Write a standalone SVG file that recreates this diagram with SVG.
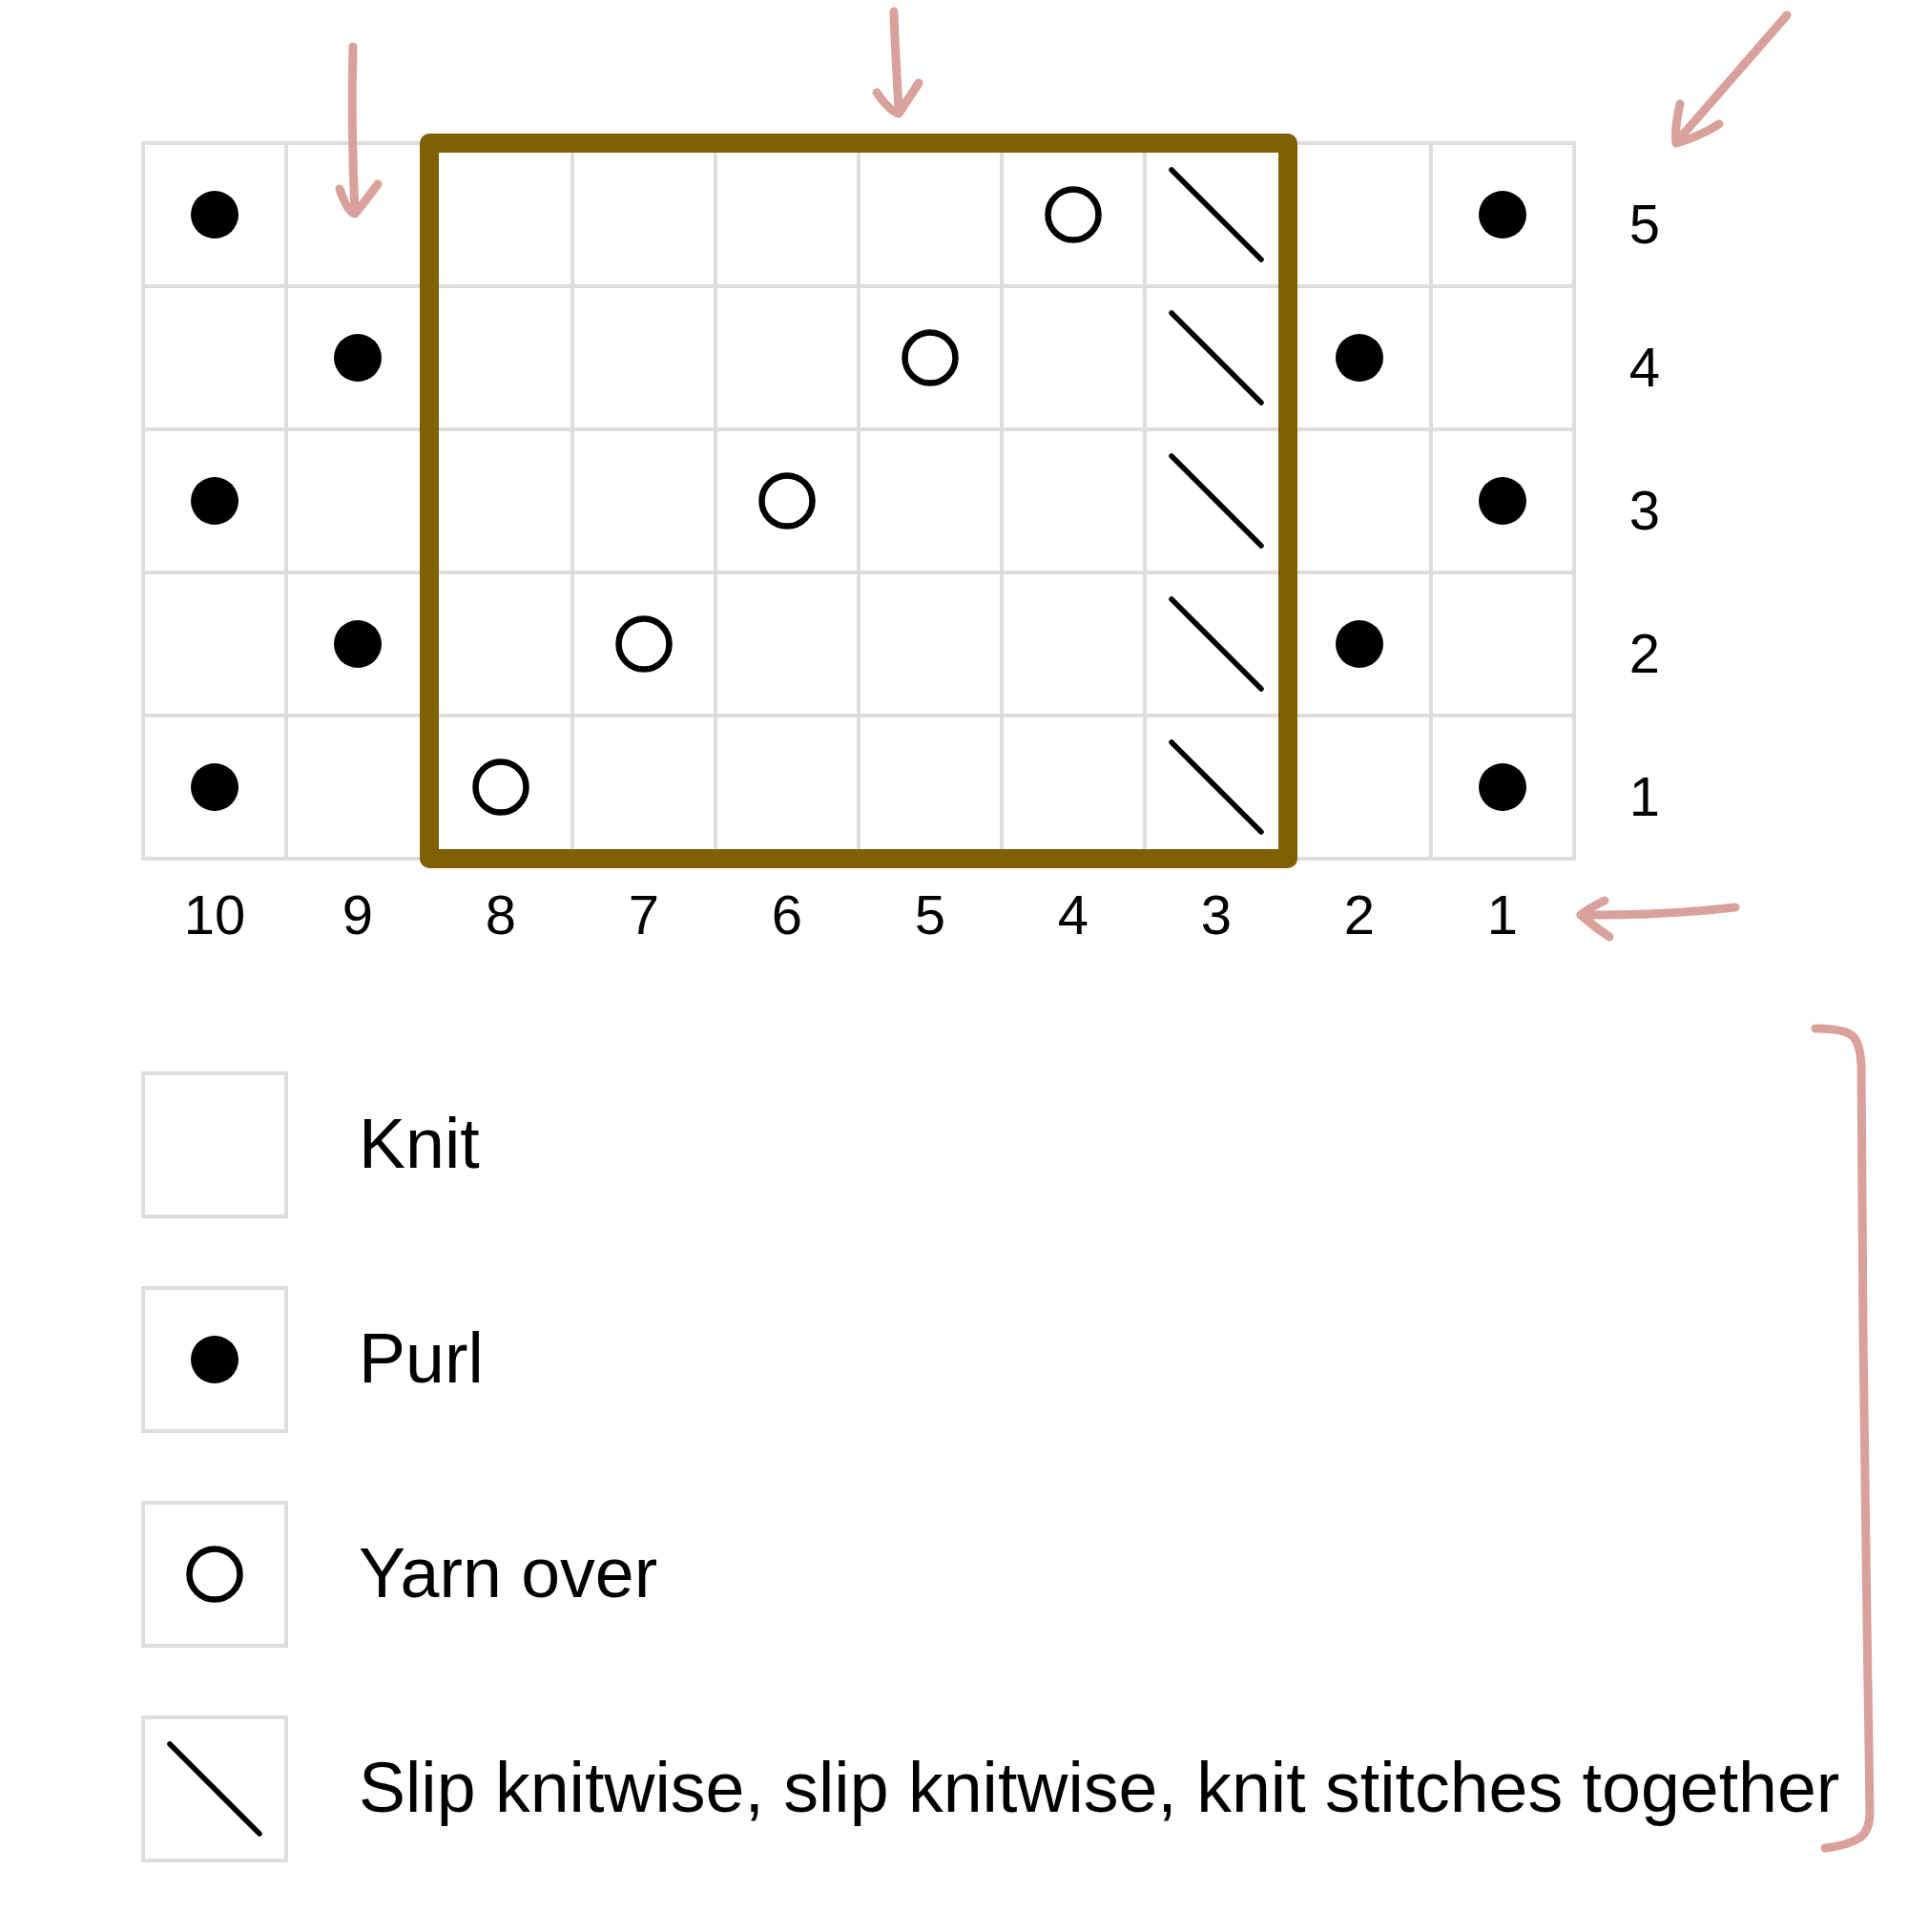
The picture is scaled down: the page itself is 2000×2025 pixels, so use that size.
<svg xmlns="http://www.w3.org/2000/svg" width="2000" height="2025" viewBox="0 0 2000 2025">
<style>
.grid{stroke:#DDDDDD;stroke-width:4;fill:none}
.box{stroke:#DDDDDD;stroke-width:4;fill:#FFFFFF}
.purl{fill:#000000}
.yo{fill:none;stroke:#000000;stroke-width:6.5}
.slash{stroke:#000000;stroke-width:5.5;stroke-linecap:round}
.frame{fill:none;stroke:#7F6104;stroke-width:20;stroke-linejoin:round}
.num{font-family:"Liberation Sans",Arial,sans-serif;font-size:58px;fill:#000000;text-anchor:middle}
.leg{font-family:"Liberation Sans",Arial,sans-serif;font-size:73.5px;fill:#000000}
.pink{fill:none;stroke:#D9A19B;stroke-width:9;stroke-linecap:round;stroke-linejoin:round}
</style>
<defs>
<circle id="p" r="25" class="purl"/>
<circle id="o" r="26.5" class="yo"/>
<line id="s" x1="0" y1="0" x2="94" y2="94" class="slash"/>
</defs>
<rect width="2000" height="2025" fill="#FFFFFF"/>
<g id="chart">
<rect x="150" y="150" width="1500" height="750" class="grid"/>
<path class="grid" d="M300,150V900M450,150V900M600,150V900M750,150V900M900,150V900M1050,150V900M1200,150V900M1350,150V900M1500,150V900M150,300H1650M150,450H1650M150,600H1650M150,750H1650"/>
</g>
<g id="stitches">
<use href="#p" x="225" y="225"/><use href="#p" x="1575" y="225"/>
<use href="#p" x="375" y="375"/><use href="#p" x="1425" y="375"/>
<use href="#p" x="225" y="525"/><use href="#p" x="1575" y="525"/>
<use href="#p" x="375" y="675"/><use href="#p" x="1425" y="675"/>
<use href="#p" x="225" y="825"/><use href="#p" x="1575" y="825"/>
<use href="#o" x="1125" y="225"/>
<use href="#o" x="975" y="375"/>
<use href="#o" x="825" y="525"/>
<use href="#o" x="675" y="675"/>
<use href="#o" x="525" y="825"/>
<use href="#s" x="1228" y="178"/>
<use href="#s" x="1228" y="328"/>
<use href="#s" x="1228" y="478"/>
<use href="#s" x="1228" y="628"/>
<use href="#s" x="1228" y="778"/>
</g>
<g id="repeat-frame">
<rect x="450" y="150" width="900" height="750" class="frame"/>
</g>
<g id="row-labels">
<text class="num" x="1724" y="255">5</text>
<text class="num" x="1724" y="405">4</text>
<text class="num" x="1724" y="555">3</text>
<text class="num" x="1724" y="705">2</text>
<text class="num" x="1724" y="855">1</text>
</g>
<g id="column-labels">
<text class="num" x="225" y="979">10</text>
<text class="num" x="375" y="979">9</text>
<text class="num" x="525" y="979">8</text>
<text class="num" x="675" y="979">7</text>
<text class="num" x="825" y="979">6</text>
<text class="num" x="975" y="979">5</text>
<text class="num" x="1125" y="979">4</text>
<text class="num" x="1275" y="979">3</text>
<text class="num" x="1425" y="979">2</text>
<text class="num" x="1575" y="979">1</text>
</g>
<g id="legend-knit">
<rect x="150" y="1125" width="150" height="150" class="box"/>
<text class="leg" x="376" y="1224">Knit</text>
</g>
<g id="legend-purl">
<rect x="150" y="1350" width="150" height="150" class="box"/>
<use href="#p" x="225" y="1425"/>
<text class="leg" x="376" y="1449">Purl</text>
</g>
<g id="legend-yo">
<rect x="150" y="1575" width="150" height="150" class="box"/>
<use href="#o" x="225" y="1650"/>
<text class="leg" x="376" y="1674">Yarn over</text>
</g>
<g id="legend-slip">
<rect x="150" y="1800" width="150" height="150" class="box"/>
<use href="#s" x="178" y="1828"/>
<text class="leg" x="376" y="1899">Slip knitwise, slip knitwise, knit stitches together</text>
</g>
<g id="connectors">
<path class="pink" d="M370,49 C368,120 370,180 372,223"/>
<path class="pink" d="M356,198 Q364,222 372,224 Q382,212 396,193"/>
<path class="pink" d="M937,12 C938,50 941,90 942,118"/>
<path class="pink" d="M919,97 Q932,116 942,119 Q952,104 963,87"/>
<path class="pink" d="M1873,16 L1758,148"/>
<path class="pink" d="M1761,109 Q1755,135 1757,150 Q1782,143 1802,130"/>
<path class="pink" d="M1819,951 Q1740,960 1657,959"/>
<path class="pink" d="M1682,944 Q1665,952 1657,959 Q1672,972 1687,982"/>
<path class="pink" d="M1903,1078 Q1935,1078 1943,1087 Q1950,1095 1951,1117 L1953,1400 L1957,1700 L1960,1900 Q1960,1918 1950,1926 Q1935,1935 1913,1937"/>
</g>
</svg>
